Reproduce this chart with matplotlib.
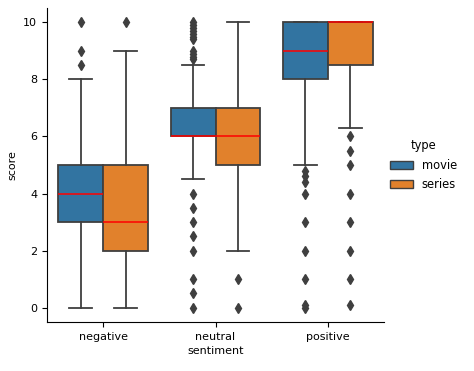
import matplotlib
matplotlib.use("Agg")
import matplotlib.pyplot as plt
from matplotlib.patches import Patch

categories = ["negative", "neutral", "positive"]
hues = ["movie", "series"]
colors = ["#3274a1", "#e1812c"]

# box statistics per (category, hue): q1, median, q3, whisker low, whisker high
q1 = {("negative", "movie"): 3, ("negative", "series"): 2,
      ("neutral", "movie"): 6, ("neutral", "series"): 5,
      ("positive", "movie"): 8, ("positive", "series"): 8.5}
med = {("negative", "movie"): 4, ("negative", "series"): 3,
       ("neutral", "movie"): 6, ("neutral", "series"): 6,
       ("positive", "movie"): 9, ("positive", "series"): 10}
q3 = {("negative", "movie"): 5, ("negative", "series"): 5,
      ("neutral", "movie"): 7, ("neutral", "series"): 7,
      ("positive", "movie"): 10, ("positive", "series"): 10}
wlo = {("negative", "movie"): 0, ("negative", "series"): 0,
       ("neutral", "movie"): 4.5, ("neutral", "series"): 2,
       ("positive", "movie"): 5, ("positive", "series"): 6.3}
whi = {("negative", "movie"): 8, ("negative", "series"): 9,
       ("neutral", "movie"): 8.5, ("neutral", "series"): 10,
       ("positive", "movie"): 10, ("positive", "series"): 10}
fliers = {
    ("negative", "movie"): [8.5, 9, 10],
    ("negative", "series"): [10],
    ("neutral", "movie"): [0, 0.5, 1, 2, 2.5, 3, 3.5, 4, 8.7, 8.8, 8.9, 9.0,
                           9.4, 9.5, 9.6, 9.7, 9.8, 9.9, 10],
    ("neutral", "series"): [0, 1],
    ("positive", "movie"): [0, 0.1, 1, 2, 3, 4, 4.4, 4.6, 4.8],
    ("positive", "series"): [0.1, 1, 2, 3, 4, 5, 5.5, 6],
}

fig = plt.figure(figsize=(4.74, 3.71), dpi=100)
ax = fig.add_axes([47/474, 49/371, 337/474, 314/371])

line_c = "#3f3f3f"
for i, cat in enumerate(categories):
    for j, h in enumerate(hues):
        k = (cat, h)
        st = [dict(med=med[k], q1=q1[k], q3=q3[k], whislo=wlo[k], whishi=whi[k],
                   fliers=fliers[k])]
        pos = i + (-0.2 if j == 0 else 0.2)
        ax.bxp(st, positions=[pos], widths=0.4, patch_artist=True, manage_ticks=False,
               boxprops=dict(facecolor=colors[j], edgecolor=line_c, linewidth=1.3),
               whiskerprops=dict(color=line_c, linewidth=1.3),
               capprops=dict(color=line_c, linewidth=1.3),
               medianprops=dict(color="red", linewidth=1.1),
               flierprops=dict(marker="d", markerfacecolor=line_c, markeredgecolor=line_c,
                               markersize=5.5))

ax.set_xlim(-0.5, 2.5)
ax.set_ylim(-0.5, 10.5)
ax.set_xticks(range(len(categories)))
ax.set_xticklabels(categories)
ax.set_yticks([0, 2, 4, 6, 8, 10])
ax.tick_params(labelsize=8)
ax.set_xlabel("sentiment", fontsize=8, labelpad=3)
ax.set_ylabel("score", fontsize=8)
ax.spines["top"].set_visible(False)
ax.spines["right"].set_visible(False)

handles = [Patch(facecolor=c, edgecolor=line_c, linewidth=1.0) for c in colors]
fig.legend(handles, hues, title="type", loc="center left", bbox_to_anchor=(0.80, 0.555),
           frameon=False, fontsize=8.3, title_fontsize=8.3, handlelength=2.0,
           labelspacing=0.55)

fig.savefig("out.png", dpi=100)
